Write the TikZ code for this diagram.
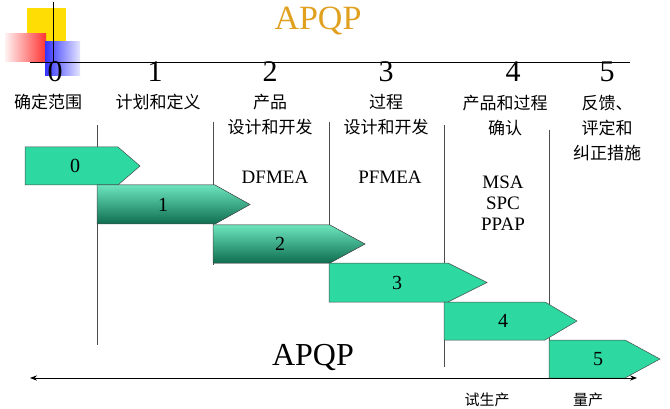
\documentclass[tikz,border=0pt]{standalone}
\usepackage{fontspec}
\setmainfont{Liberation Serif}
\newfontfamily\cjk{Noto Sans CJK SC}
\usetikzlibrary{arrows.meta}
\definecolor{grn}{HTML}{2DD9A0}
\definecolor{dgrn}{HTML}{0E6E50}
\definecolor{gold}{HTML}{E0A020}
\tikzset{
 stage/.style={fill=grn,draw=black!70,line width=0.5pt},
 dstage/.style={top color=grn!70,bottom color=dgrn,draw=black!70,line width=0.5pt},
 num/.style={font=\fontsize{30}{30}\selectfont},
 lab/.style={font=\cjk\fontsize{17}{25}\selectfont,align=center},
 tool/.style={font=\fontsize{19}{19}\selectfont},
 vl/.style={draw=black!70,line width=0.6pt}
}
\newcommand{\arrowshape}[6]{% style, x0, x1(body), x2(tip), ytop, ybot
 \fill[#1] (#2,#5) -- (#3,#5) -- (#4,{(#5+#6)/2}) -- (#3,#6) -- (#2,#6) -- cycle;}
\begin{document}
\begin{tikzpicture}[x=1pt,y=-1pt]
\useasboundingbox (0,0) rectangle (670,409);
% logo
\fill[yellow!80!orange] (27,8) rectangle (66,48);
\shade[left color=red!5,right color=red!80] (5,34) rectangle (46,62);
\shade[left color=blue!80,right color=blue!10] (45,42) rectangle (80,76);
\draw[line width=0.8pt] (53,2) -- (53,62);
\node[font=\fontsize{34}{34}\selectfont,text=gold,inner sep=0pt] (title) at (318,21) {APQP};
\draw[line width=0.8pt] (30,62) -- (630,62);
% numbers
\foreach \n/\x in {0/55,1/155,2/270,3/386,4/513,5/607}
  \node[num] (n\n) at (\x,72) {\n};
\node[lab] (l0) at (48,102) {确定范围};
\node[lab] (l1) at (158,102) {计划和定义};
\node[lab] (l2) at (270,115) {产品\\设计和开发};
\node[lab] (l3) at (386,115) {过程\\设计和开发};
\node[lab] (l4) at (505,116) {产品和过程\\确认};
\node[lab] (l5) at (607,128) {反馈、\\评定和\\纠正措施};
% vertical lines
\draw[vl] (97,125) -- (97,345);
\draw[vl] (213,122) -- (213,265);
\draw[vl] (329,122) -- (329,265);
\draw[vl] (444,125) -- (444,367);
\draw[vl] (549,130) -- (549,340);
% stage arrows
\arrowshape{stage}{25}{118}{140}{147}{185}
\arrowshape{dstage}{97}{215}{250}{185}{224}
\arrowshape{dstage}{213}{330}{365}{225}{263}
\arrowshape{stage}{329}{448}{487}{263}{302}
\arrowshape{stage}{444}{545}{577}{302}{340}
\arrowshape{stage}{549}{625}{660}{340}{378}
\foreach \n/\x/\y in {0/75/166,1/163/205,2/280/244,3/397/283,4/503/321,5/598/359}
  \node[font=\fontsize{20}{20}\selectfont] (s\n) at (\x,\y) {\n};
\node[tool] (t1) at (275,177) {DFMEA};
\node[tool] (t2) at (390,177) {PFMEA};
\node[tool,align=center] (t3) at (503,203) {MSA\\[2pt]SPC\\[2pt]PPAP};
\node[font=\fontsize{32}{32}\selectfont] (bt) at (313,357) {APQP};
\coordinate (al) at (30,378);
\coordinate (ar) at (637,378);
\draw[line width=1pt,{Stealth[length=7pt]}-{Stealth[length=7pt]}] (al) -- (ar);
\node[font=\cjk\fontsize{15}{15}\selectfont] (p1) at (487,400) {试生产};
\node[font=\cjk\fontsize{15}{15}\selectfont] (p2) at (588,400) {量产};
\end{tikzpicture}
\end{document}
